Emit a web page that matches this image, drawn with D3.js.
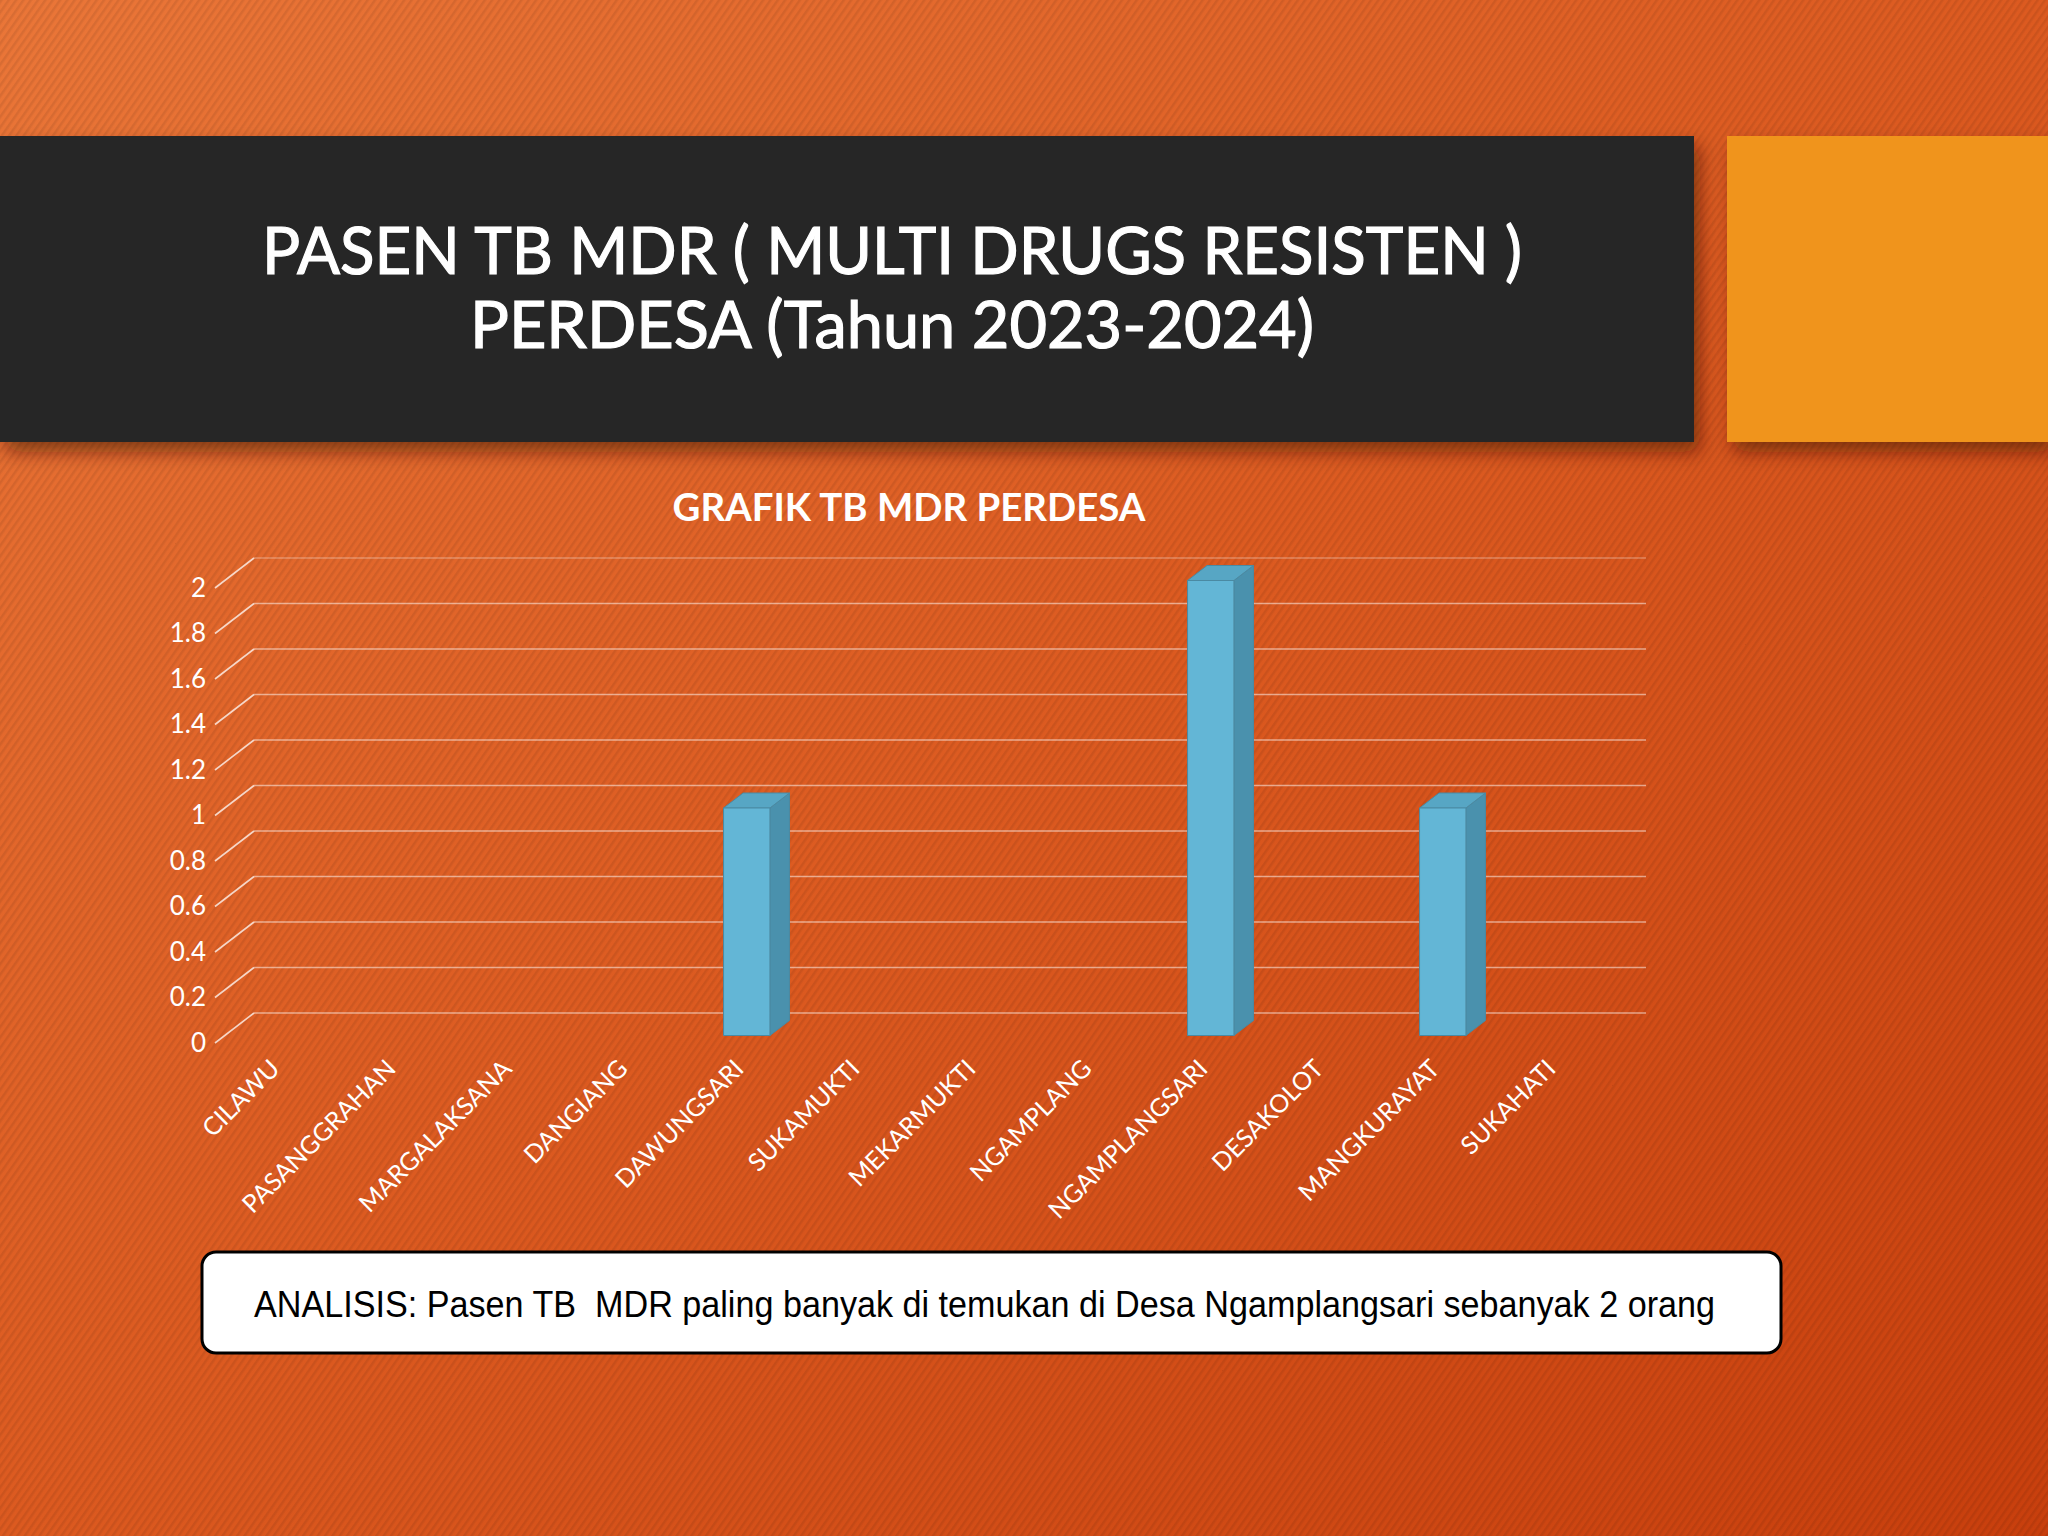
<!DOCTYPE html>
<html>
<head>
<meta charset="utf-8">
<script src="https://cdn.jsdelivr.net/npm/d3@7"></script>
<style>
  body { margin: 0; background: #d65a22; }
  svg { display: block; }
</style>
</head>
<body>
<svg id="chart" width="2048" height="1536"></svg>
<script>
// chart data
var categories = ['CILAWU', 'PASANGGRAHAN', 'MARGALAKSANA', 'DANGIANG', 'DAWUNGSARI', 'SUKAMUKTI',
    'MEKARMUKTI', 'NGAMPLANG', 'NGAMPLANGSARI', 'DESAKOLOT', 'MANGKURAYAT', 'SUKAHATI'];
var values = [0, 0, 0, 0, 1, 0, 0, 0, 2, 0, 1, 0];
var yTicks = [0, 0.2, 0.4, 0.6, 0.8, 1, 1.2, 1.4, 1.6, 1.8, 2];

var titleLines = ['PASEN TB MDR ( MULTI DRUGS RESISTEN )', 'PERDESA (Tahun 2023-2024)'];
var chartTitle = 'GRAFIK TB MDR PERDESA';
var analysisText = 'ANALISIS: Pasen TB  MDR paling banyak di temukan di Desa Ngamplangsari sebanyak 2 orang';

var svg = d3.select('#chart');
var W = +svg.attr('width');
var H = +svg.attr('height');

var defs = svg.append('defs');

// background gradient
var bg = defs.append('linearGradient')
    .attr('id', 'bgGrad')
    .attr('x1', '0%').attr('y1', '0%')
    .attr('x2', '100%').attr('y2', '100%');
bg.append('stop').attr('offset', '0%').attr('stop-color', '#ea7638');
bg.append('stop').attr('offset', '50%').attr('stop-color', '#dc5a20');
bg.append('stop').attr('offset', '100%').attr('stop-color', '#c83f0d');

// fine diagonal stripes of the slide texture
var stripes = defs.append('pattern')
    .attr('id', 'stripes')
    .attr('width', 6).attr('height', 6)
    .attr('patternUnits', 'userSpaceOnUse')
    .attr('patternTransform', 'rotate(35)');
stripes.append('rect')
    .attr('width', 2.5).attr('height', 6)
    .attr('fill', '#000').attr('opacity', 0.08);

var shadow = defs.append('filter')
    .attr('id', 'shadow')
    .attr('x', '-10%').attr('y', '-10%')
    .attr('width', '130%').attr('height', '140%');
shadow.append('feDropShadow')
    .attr('dx', 6).attr('dy', 10)
    .attr('stdDeviation', 9)
    .attr('flood-color', '#3a1000')
    .attr('flood-opacity', 0.55);

svg.append('rect').attr('width', W).attr('height', H).attr('fill', 'url(#bgGrad)');
svg.append('rect').attr('width', W).attr('height', H).attr('fill', 'url(#stripes)');

// header band and the orange block
svg.append('rect')
    .attr('x', 0).attr('y', 136)
    .attr('width', 1694).attr('height', 306)
    .attr('fill', '#262626')
    .attr('filter', 'url(#shadow)');
svg.append('rect')
    .attr('x', 1727).attr('y', 136)
    .attr('width', 321).attr('height', 306)
    .attr('fill', '#f0941a')
    .attr('filter', 'url(#shadow)');

var titleWidths = [1260, 844];
var titleBase = [274, 348];
svg.selectAll('.slide-title')
    .data(titleLines)
    .enter()
    .append('text')
    .attr('class', 'slide-title')
    .attr('x', 892)
    .attr('y', function(d, i) { return titleBase[i]; })
    .attr('text-anchor', 'middle')
    .attr('textLength', function(d, i) { return titleWidths[i]; })
    .attr('lengthAdjust', 'spacingAndGlyphs')
    .style('font-family', 'Lato, "Open Sans", sans-serif')
    .style('font-size', '66px')
    .attr('fill', '#ffffff')
    .attr('stroke', '#ffffff')
    .attr('stroke-width', 1.2)
    .text(function(d) { return d; });

// chart title
svg.append('text')
    .attr('x', 909)
    .attr('y', 521)
    .attr('text-anchor', 'middle')
    .attr('textLength', 473)
    .attr('lengthAdjust', 'spacingAndGlyphs')
    .style('font-family', 'Lato, "Open Sans", sans-serif')
    .style('font-size', '38px')
    .style('font-weight', 700)
    .attr('fill', '#ffffff')
    .text(chartTitle);

// 3D layout: front plane + depth vector to the back wall
var depth = {x: 39, y: -30};

var x = d3.scaleBand()
    .domain(categories)
    .range([215, 1607])
    .paddingInner(0.6)
    .paddingOuter(0.3);

var y = d3.scaleLinear()
    .domain([0, 2])
    .range([1043, 588]);

var plotLeft = x.range()[0];
var plotRight = x.range()[1];

var gridG = svg.append('g')
    .attr('stroke', '#ffffff')
    .attr('stroke-width', 1.6)
    .attr('fill', 'none');

// back wall lines
gridG.selectAll('.back')
    .data(yTicks)
    .enter()
    .append('line')
    .attr('stroke-opacity', function(d) { return d === 2 ? 0.3 : 0.5; })
    .attr('x1', plotLeft + depth.x)
    .attr('x2', plotRight + depth.x)
    .attr('y1', function(d) { return y(d) + depth.y; })
    .attr('y2', function(d) { return y(d) + depth.y; });

// side wall diagonals
gridG.selectAll('.side')
    .data(yTicks)
    .enter()
    .append('line')
    .attr('stroke-opacity', 0.75)
    .attr('x1', plotLeft)
    .attr('x2', plotLeft + depth.x)
    .attr('y1', function(d) { return y(d); })
    .attr('y2', function(d) { return y(d) + depth.y; });

// value axis labels
var yAxis = d3.axisLeft(y)
    .tickValues(yTicks)
    .tickFormat(d3.format('~g'))
    .tickSize(0)
    .tickPadding(0);

var yAxisG = svg.append('g')
    .attr('transform', 'translate(206,0)')
    .call(yAxis);
yAxisG.select('.domain').remove();
yAxisG.selectAll('text')
    .attr('fill', '#ffffff')
    .style('font-family', 'Lato, "Open Sans", sans-serif')
    .style('font-size', '26px');

// bars
var bw = x.bandwidth();
var f0 = 0.25, f1 = 0.75;
var barData = categories.map(function(c, i) { return {cat: c, value: values[i]}; })
    .filter(function(d) { return d.value > 0; });

var bars = svg.selectAll('.bar')
    .data(barData)
    .enter()
    .append('g')
    .attr('class', 'bar')
    .attr('stroke', '#4a8aa3')
    .attr('stroke-width', 1)
    .attr('stroke-linejoin', 'round');

function pts(arr) {
    return arr.map(function(p) { return p.join(','); }).join(' ');
}

bars.each(function(d) {
    var g = d3.select(this);
    var x0 = x(d.cat) + depth.x * f0;
    var x1 = x0 + bw;
    var top = y(d.value) + depth.y * f0;
    var bot = y(0) + depth.y * f0;
    var ddx = depth.x * (f1 - f0);
    var ddy = depth.y * (f1 - f0);

    g.append('polygon')
        .attr('points', pts([[x1, top], [x1 + ddx, top + ddy], [x1 + ddx, bot + ddy], [x1, bot]]))
        .attr('fill', '#4a91ad');
    g.append('polygon')
        .attr('points', pts([[x0, top], [x0 + ddx, top + ddy], [x1 + ddx, top + ddy], [x1, top]]))
        .attr('fill', '#57a6c4');
    g.append('rect')
        .attr('x', x0)
        .attr('y', top)
        .attr('width', bw)
        .attr('height', bot - top)
        .attr('fill', '#63b6d6');
});

// category labels, rotated
svg.selectAll('.cat-label')
    .data(categories)
    .enter()
    .append('text')
    .attr('class', 'cat-label')
    .attr('transform', function(d) {
        return 'translate(' + (x(d) + bw / 2 + 2) + ',1064) rotate(-45)';
    })
    .attr('text-anchor', 'end')
    .attr('dy', '0.35em')
    .attr('fill', '#ffffff')
    .style('font-family', 'Lato, "Open Sans", sans-serif')
    .style('font-size', '25px')
    .text(function(d) { return d; });

// analysis box
svg.append('rect')
    .attr('x', 202).attr('y', 1252)
    .attr('width', 1579).attr('height', 101)
    .attr('rx', 14).attr('ry', 14)
    .attr('fill', '#ffffff')
    .attr('stroke', '#000000')
    .attr('stroke-width', 3);

svg.append('text')
    .attr('x', 254)
    .attr('y', 1317)
    .attr('textLength', 1461)
    .attr('lengthAdjust', 'spacingAndGlyphs')
    .style('white-space', 'pre')
    .style('font-family', '"Liberation Sans Narrow", "Liberation Sans", Arial, sans-serif')
    .style('font-size', '36px')
    .attr('fill', '#000000')
    .text(analysisText);
</script>
</body>
</html>
